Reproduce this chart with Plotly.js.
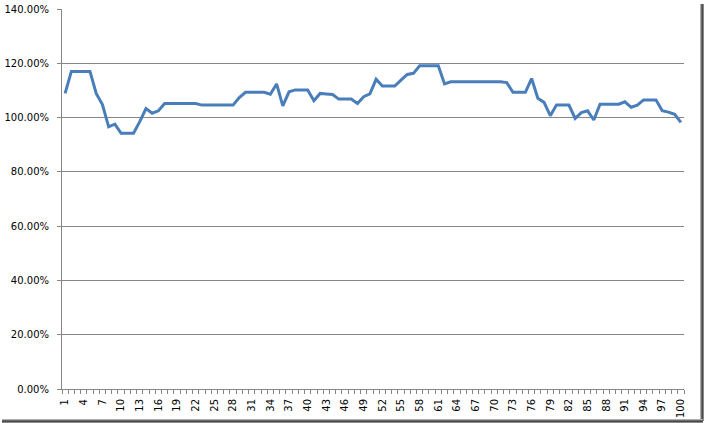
<!DOCTYPE html>
<html>
<head>
<meta charset="utf-8">
<script src="https://cdn.plot.ly/plotly-3.0.1.min.js"></script>
<style>
html,body{margin:0;padding:0;background:#fff;}
#chart{width:704px;height:423px;}
</style>
</head>
<body>
<div id="chart"></div>
<script>
// Category labels 1..100
const categories = [1,2,3,4,5,6,7,8,9,10,11,12,13,14,15,16,17,18,19,20,21,22,23,24,25,26,27,28,29,30,31,32,33,34,35,36,37,38,39,40,41,42,43,44,45,46,47,48,49,50,51,52,53,54,55,56,57,58,59,60,61,62,63,64,65,66,67,68,69,70,71,72,73,74,75,76,77,78,79,80,81,82,83,84,85,86,87,88,89,90,91,92,93,94,95,96,97,98,99,100];

// Series values (fractions, shown as %)
const values = [
  1.089, 1.170, 1.170, 1.170, 1.170, 1.089, 1.048, 0.966, 0.976, 0.942,
  0.942, 0.942, 0.985, 1.033, 1.016, 1.025, 1.052, 1.052, 1.052, 1.052,
  1.052, 1.052, 1.046, 1.046, 1.046, 1.046, 1.046, 1.046, 1.074, 1.093,
  1.093, 1.093, 1.093, 1.086, 1.124, 1.043, 1.095, 1.102, 1.102, 1.102,
  1.062, 1.089, 1.087, 1.085, 1.068, 1.068, 1.068, 1.052, 1.077, 1.087,
  1.141, 1.116, 1.116, 1.116, 1.138, 1.159, 1.163, 1.191, 1.191, 1.191,
  1.191, 1.124, 1.132, 1.132, 1.132, 1.132, 1.132, 1.132, 1.132, 1.132,
  1.132, 1.129, 1.093, 1.093, 1.093, 1.144, 1.071, 1.056, 1.007, 1.046,
  1.046, 1.046, 0.997, 1.018, 1.025, 0.991, 1.049, 1.049, 1.049, 1.049,
  1.058, 1.038, 1.046, 1.065, 1.065, 1.065, 1.025, 1.020, 1.012, 0.982
];

// Tick labels shown on the x axis (every third category)
const xTickLabels = categories.filter((c, i) => i % 3 === 0);
const minorTickPositions = categories.map(c => c - 0.5).concat([categories.length + 0.5]);

// Y axis ticks
const yTickValues = [0, 0.2, 0.4, 0.6, 0.8, 1.0, 1.2, 1.4];

const W = 704, H = 423;
const L = 62, R = 20, T = 9, B = 34;
const pw = W - L - R, ph = H - T - B;
const px = x => (x - L) / pw;
const py = y => (H - B - y) / ph;

const shapes = [];
// right shadow
const rs = [['#b0b0b0',700],['#6a6a6a',701],['#4a4a4a',702],['#8a8a8a',703]];
rs.forEach(([c,x]) => shapes.push({type:'line', xref:'paper', yref:'paper',
  x0:px(x+0.5), x1:px(x+0.5), y0:py(4), y1:py(421), line:{color:c, width:1}}));
// bottom shadow
const bs = [['#b0b0b0',419],['#6a6a6a',420],['#4a4a4a',421],['#8a8a8a',422]];
bs.forEach(([c,y]) => shapes.push({type:'line', xref:'paper', yref:'paper',
  x0:px(2), x1:px(703), y0:py(y+0.5), y1:py(y+0.5), line:{color:c, width:1}}));

const trace = {
  x: categories,
  y: values,
  type: 'scatter',
  mode: 'lines',
  line: {color: '#4a7ebb', width: 3},
  hoverinfo: 'skip'
};

const font = {family: 'DejaVu Sans, Verdana, sans-serif', size: 10, color: '#000'};

const layout = {
  width: W, height: H,
  margin: {l: L, r: R, t: T, b: B, pad: 0},
  paper_bgcolor: '#fff',
  plot_bgcolor: '#fff',
  showlegend: false,
  font: font,
  xaxis: {
    range: [0.5, categories.length + 0.5],
    tickmode: 'array',
    tickvals: xTickLabels,
    ticktext: xTickLabels.map(String),
    tickangle: -90,
    ticks: '',
    ticklabelstandoff: 5,
    showgrid: false,
    zeroline: false,
    showline: true,
    linecolor: '#868686',
    linewidth: 1,
    tickfont: font,
    minor: {tickmode: 'array', tickvals: minorTickPositions, ticks: 'outside', ticklen: 4, tickcolor: '#868686', tickwidth: 1, showgrid: false}
  },
  yaxis: {
    range: [0, 1.4],
    tickmode: 'array',
    tickvals: yTickValues,
    tickformat: '.2%',
    ticks: 'outside',
    ticklen: 4,
    tickcolor: '#868686',
    ticklabelstandoff: 6,
    showgrid: true,
    gridcolor: '#868686',
    gridwidth: 1,
    zeroline: false,
    showline: true,
    linecolor: '#868686',
    linewidth: 1,
    tickfont: font
  },
  shapes: shapes
};

Plotly.newPlot('chart', [trace], layout, {staticPlot: true, displayModeBar: false});
</script>
</body>
</html>
